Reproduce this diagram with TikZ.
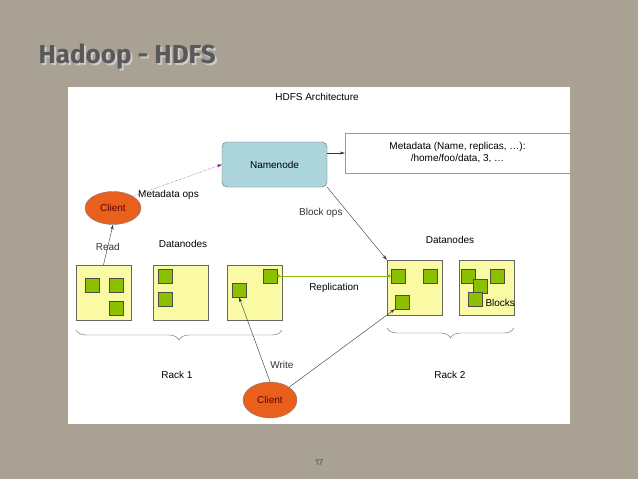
\documentclass[tikz,border=0pt]{standalone}
\usepackage{fontspec}
\setmainfont{Liberation Sans}
\newfontfamily\titlefont{Fira Sans}
\usetikzlibrary{decorations.pathreplacing,arrows.meta,shapes.geometric}
\definecolor{slide}{RGB}{170,161,149}
\definecolor{nameblue}{RGB}{172,214,220}
\definecolor{clientorange}{RGB}{232,96,28}
\definecolor{dnyellow}{RGB}{250,250,165}
\definecolor{blockgreen}{RGB}{140,192,0}
\tikzstyle{datanode}=[draw=black!60, fill=dnyellow, minimum width=55pt, minimum height=55pt, inner sep=0pt]
\tikzstyle{block}=[draw=black!70, fill=blockgreen, minimum size=14pt, inner sep=0pt]
\tikzstyle{client}=[draw=black!50, ellipse, fill=clientorange, text=red!40!black, minimum width=56pt, minimum height=33pt, inner sep=0pt, font=\fontsize{10}{12}\selectfont]
\tikzstyle{lbl}=[font=\fontsize{10}{12}\selectfont]
\tikzstyle{conn}=[draw, -{Stealth[length=5pt,width=3pt]}, black!80, thin]

\begin{document}
\begin{tikzpicture}[x=1pt, y=-1pt]
  \fill[slide] (0,0) rectangle (638,479);
  \fill[white] (68,87) rectangle (570,424);
  \node[font=\titlefont\bfseries\fontsize{26}{30}\selectfont, text=black!20, anchor=west] at (37,59) {Hadoop - HDFS};
  \node[font=\titlefont\bfseries\fontsize{26}{30}\selectfont, text=black!65, anchor=west] (title) at (35,57) {Hadoop - HDFS};
  \node[lbl] (arch) at (317,97) {HDFS Architecture};

  % namenode and metadata
  \node[draw=black!60, fill=nameblue, rounded corners=5pt, minimum width=105pt, minimum height=45pt, lbl] (nn) at (274.5,164.5) {Namenode};
  \node[lbl, align=center, minimum width=225pt, minimum height=40pt, inner sep=0pt] (meta) at (457.5,153) {Metadata (Name, replicas, \dots):\\/home/foo/data, 3, \dots};
  \draw[black!40] (meta.north east) -- (meta.north west) -- (meta.south west) -- (meta.south east);
  \path[conn] (nn.east |- meta.west) -- (meta.west);

  % clients
  \node[client] (c1) at (113,208) {Client};
  \node[client, minimum width=54pt, minimum height=36pt] (c2) at (270,400) {Client};

  % datanodes, rack 1 and rack 2
  \foreach \name/\x/\y in {dn1/103.5/292.5, dn2/181/292.5, dn3/254.5/292.5, dn4/414.5/287.5, dn5/487/287.5}
    \node[datanode] (\name) at (\x,\y) {};
  \foreach \name/\x/\y in {b1/92/285, b2/116/285, b3/116/308, b4/165/276, b5/165/299,
                           b6/239/290, b7/270/276, b8/398/276, b9/430/276, b10/402/302,
                           b11/468/276, b12/480/286, b13/497/276, b14/475/299}
    \node[block] (\name) at (\x,\y) {};
  \node[lbl] (dnl1) at (183,244) {Datanodes};
  \node[lbl] (dnl2) at (450,240) {Datanodes};
  \node[lbl, anchor=west] (blocks) at (482,303) {Blocks};

  % connectors
  \path[conn, densely dotted, violet] (c1.north east) -- node[lbl, text=black, pos=0.4, below=3pt] {Metadata ops} (nn.west);
  \path[conn] (dn1.north) -- node[lbl, pos=0.45] {Read} (c1.south);
  \path[conn] (nn.south east) -- node[lbl, pos=0.35, left=2pt] {Block ops} (dn4.north west);
  \path[draw, blockgreen, {Circle[length=3pt]}-{Circle[length=3pt]}] (b7.east) -- node[lbl, text=black, below=4pt] {Replication} (b8.west);
  \path[conn] (c2.north) -- node[lbl, pos=0.2, right=3pt] {Write} (b6.south);
  \path[conn] (c2.north east) -- (b10.south west);

  % racks
  \draw[black!60, decorate, decoration={brace, mirror, amplitude=10pt}] (76,330) -- (282,330);
  \draw[black!60, decorate, decoration={brace, mirror, amplitude=10pt}] (387,328) -- (514,328);
  \node[lbl] (rack1) at (177,375) {Rack 1};
  \node[lbl] (rack2) at (450,375) {Rack 2};
  \node[font=\titlefont\bfseries\fontsize{9}{10}\selectfont, text=black!55] (page) at (319,463) {17};
\end{tikzpicture}
\end{document}
